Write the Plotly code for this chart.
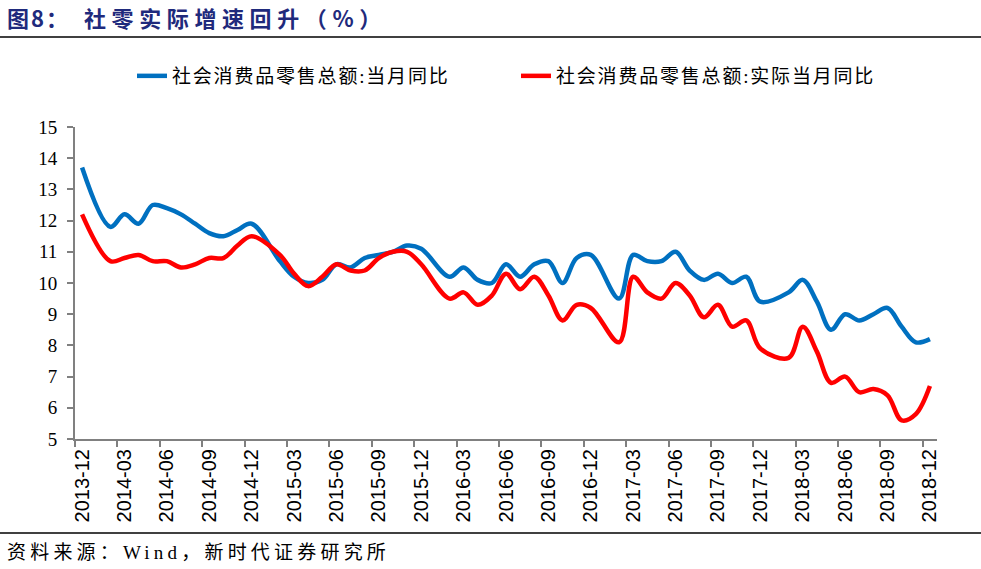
import plotly.graph_objects as go
import pandas as pd

# ---- data ----
months = [str(p) for p in pd.period_range("2013-12", "2018-12", freq="M")]

nominal_yoy = [
    13.7,
    None, 11.8, 12.2, 11.9, 12.5, 12.4, 12.2, 11.9, 11.6, 11.5, 11.7, 11.9,
    None, 10.7, 10.2, 10.0, 10.1, 10.6, 10.5, 10.8, 10.9, 11.0, 11.2, 11.1,
    None, 10.2, 10.5, 10.1, 10.0, 10.6, 10.2, 10.6, 10.7, 10.0, 10.8, 10.9,
    None, 9.5, 10.9, 10.7, 10.7, 11.0, 10.4, 10.1, 10.3, 10.0, 10.2, 9.4,
    None, 9.7, 10.1, 9.4, 8.5, 9.0, 8.8, 9.0, 9.2, 8.6, 8.1, 8.2,
]
real_yoy = [
    12.2,
    None, 10.7, 10.8, 10.9, 10.7, 10.7, 10.5, 10.6, 10.8, 10.8, 11.2, 11.5,
    None, 10.9, 10.3, 9.9, 10.2, 10.6, 10.4, 10.4, 10.8, 11.0, 11.0, 10.6,
    None, 9.5, 9.7, 9.3, 9.6, 10.3, 9.8, 10.2, 9.6, 8.8, 9.3, 9.2,
    None, 8.1, 10.2, 9.7, 9.5, 10.0, 9.6, 8.9, 9.3, 8.6, 8.8, 7.9,
    None, 7.6, 8.6, 7.8, 6.8, 7.0, 6.5, 6.6, 6.4, 5.6, 5.8, 6.7,
]
series_names = ["社会消费品零售总额:当月同比", "社会消费品零售总额:实际当月同比"]
series_colors = ["#0070C0", "#FF0000"]
y_ticks = [5, 6, 7, 8, 9, 10, 11, 12, 13, 14, 15]
title_head = "图8："
title_body = "社零实际增速回升（%）"
source_text = "资料来源：Wind，新时代证券研究所"

# ---- geometry ----
W, H = 981, 569
ML, MR, MT, MB = 75, 44, 127, 130
PW, PH = W - ML - MR, H - MT - MB

def px(xp):
    return (xp - ML) / PW

def py(yp):
    return (H - MB - yp) / PH

def spaced(text, sp):
    return '<span style="letter-spacing:%spx">%s</span>' % (sp, text)

SERIF = "Times New Roman, Liberation Serif, Noto Sans CJK SC"
idx = list(range(len(months)))

fig = go.Figure()
for vals, name, col in zip([nominal_yoy, real_yoy], series_names, series_colors):
    fig.add_trace(go.Scatter(
        x=idx, y=vals, mode="lines", name=spaced(name, 1.8),
        line=dict(color=col, width=4.5, shape="spline", smoothing=1.0),
        connectgaps=True, hoverinfo="skip",
    ))

label_pos = idx[::3]
fig.update_xaxes(
    range=[-0.5, len(months) - 0.5],
    tickmode="array", tickvals=label_pos, ticktext=[months[i] for i in label_pos],
    tickangle=-90, ticks="",
    tickfont=dict(family="Liberation Sans, Arial", size=20, color="#000000"),
    showline=True, linecolor="#808080", linewidth=2,
    showgrid=False, zeroline=False,
    minor=dict(tickmode="array", tickvals=[i - 0.5 for i in label_pos],
               ticks="outside", ticklen=6, tickwidth=2, tickcolor="#808080",
               showgrid=False),
)
fig.update_yaxes(
    range=[5, 15], tickmode="array", tickvals=y_ticks,
    ticks="outside", ticklen=6, tickwidth=2, tickcolor="#808080",
    tickfont=dict(family=SERIF, size=19, color="#000000"),
    ticklabelstandoff=6,
    showline=True, linecolor="#808080", linewidth=2,
    showgrid=False, zeroline=False,
)

fig.update_layout(
    width=W, height=H, autosize=False,
    margin=dict(l=ML, r=MR, t=MT, b=MB),
    paper_bgcolor="white", plot_bgcolor="white",
    showlegend=True,
    legend=dict(orientation="h", xref="container", yref="container",
                x=132 / W, y=1 - 76 / H, xanchor="left", yanchor="middle",
                entrywidth=339, itemwidth=30,
                font=dict(family=SERIF, size=19, color="#000000"),
                bgcolor="rgba(0,0,0,0)"),
    annotations=[
        dict(text="<b>" + spaced(title_head, 2) + "</b>", xref="paper", yref="paper",
             x=px(5), y=py(17), xanchor="left", yanchor="middle", showarrow=False,
             font=dict(family="Noto Sans CJK SC", size=22, color="#1F2A7C")),
        dict(text="<b>" + spaced(title_body, 5.6) + "</b>", xref="paper", yref="paper",
             x=px(82), y=py(17), xanchor="left", yanchor="middle", showarrow=False,
             font=dict(family="Noto Sans CJK SC", size=22, color="#1F2A7C")),
        dict(text=spaced(source_text, 4.2), xref="paper", yref="paper",
             x=px(5), y=py(552), xanchor="left", yanchor="middle", showarrow=False,
             font=dict(family=SERIF, size=19, color="#000000")),
    ],
    shapes=[
        dict(type="line", xref="paper", yref="paper", x0=px(0), x1=px(W), y0=py(37), y1=py(37),
             line=dict(color="#000000", width=1.5)),
        dict(type="line", xref="paper", yref="paper", x0=px(0), x1=px(W), y0=py(533), y1=py(533),
             line=dict(color="#000000", width=1.5)),
    ],
)

fig.write_html("out.html", config={"displayModeBar": False},
               post_script="document.body.style.margin='0';")
